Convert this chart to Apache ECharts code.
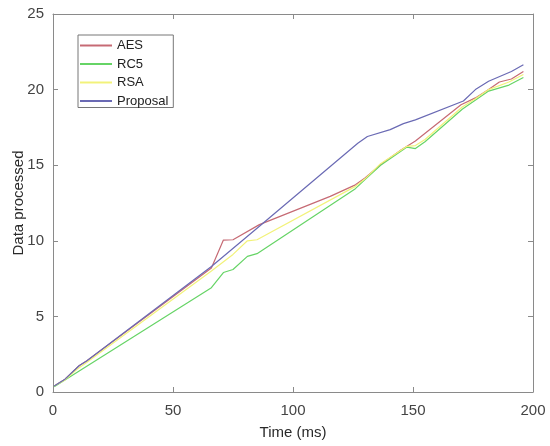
<!DOCTYPE html>
<html>
<head>
<meta charset="utf-8">
<script src="https://cdn.jsdelivr.net/npm/echarts@6/dist/echarts.min.js"></script>
<style>
  html, body { margin: 0; padding: 0; background: #fff; }
  #chart { width: 550px; height: 446px; }
</style>
</head>
<body>
<div id="chart"></div>
<script>
// [time (ms), data processed]
var aesData = [[0.5,0.4],[5,0.85],[10,1.6],[11,1.75],[14,2.05],[66,8.2],[71,10.05],[75,10.07],[86,11.07],
  [115.5,12.94],[126,13.7],[130,14.15],[137,15.1],[145,16.0],[151,16.6],[170,19.0],[176,19.45],
  [181.5,20.0],[186,20.5],[191,20.7],[196,21.2]];
var rc5Data = [[0.5,0.35],[66,6.9],[71,7.9],[75,8.1],[81,8.97],[85,9.15],[126,13.45],[130,14.05],
  [136.5,15.0],[147.5,16.2],[151,16.1],[155,16.55],[170.5,18.7],[181.5,19.9],[190,20.3],[196,20.8]];
var rsaData = [[0.5,0.4],[5,0.8],[10,1.5],[14,1.95],[66,8.0],[75,9.1],[81,10.0],[85,10.07],[126,13.6],
  [130,14.1],[136.5,15.1],[147.5,16.25],[151,16.3],[155,16.7],[170.5,18.85],[176,19.4],[181.5,20.0],
  [190,20.5],[196,21.0]];
var proposalData = [[0.5,0.4],[5,0.85],[10,1.6],[11,1.75],[14,2.05],[66,8.3],[87,11.1],[127,16.45],
  [131,16.9],[140.5,17.35],[146,17.75],[151,18.0],[171,19.25],[176,20.0],[181.5,20.55],[191,21.2],
  [196,21.65]];
var seriesNames = ['AES', 'RC5', 'RSA', 'Proposal'];
var seriesColors = ['#c66a74', '#66d466', '#f2f27a', '#6a6ab4'];

var axisGray = '#8a8a8a';
var font = 'Liberation Sans, Arial, sans-serif';

function makeAxis(pos, showLabel, extra) {
  return Object.assign({
    type: 'value',
    position: pos,
    axisLine: { show: true, onZero: false, lineStyle: { color: axisGray, width: 1 } },
    axisTick: { show: true, inside: true, length: 5, lineStyle: { color: axisGray } },
    axisLabel: { show: showLabel, color: '#444', fontSize: 15, fontFamily: font },
    splitLine: { show: false }
  }, extra);
}

var nameStyle = { fontSize: 15, color: '#2a2a2a', fontFamily: font };

var chart = echarts.init(document.getElementById('chart'));
var all = [aesData, rc5Data, rsaData, proposalData];
chart.setOption({
  animation: false,
  backgroundColor: '#fff',
  grid: { left: 53, right: 17, top: 14, bottom: 54, containLabel: false, outerBoundsMode: 'none' },
  legend: {
    orient: 'vertical',
    left: 78, top: 35,
    data: seriesNames,
    itemWidth: 32, itemHeight: 12, itemGap: 5.5,
    padding: [4, 5, 0, 1],
    backgroundColor: '#fff',
    borderColor: '#777', borderWidth: 1,
    itemStyle: { opacity: 0 },
    textStyle: { fontSize: 13, color: '#222', fontFamily: font }
  },
  xAxis: [
    makeAxis('bottom', true, { min: 0, max: 200, interval: 50,
      name: 'Time (ms)', nameLocation: 'middle', nameGap: 33, nameTextStyle: nameStyle,
      nameMoveOverlap: false,
      axisLabel: { show: true, color: '#444', fontSize: 15, fontFamily: font, margin: 11 } }),
    makeAxis('top', false, { min: 0, max: 200, interval: 50 })
  ],
  yAxis: [
    makeAxis('left', true, { min: 0, max: 25, interval: 5,
      name: 'Data processed', nameLocation: 'middle', nameGap: 27, nameTextStyle: nameStyle,
      nameMoveOverlap: false,
      axisLabel: { show: true, color: '#444', fontSize: 15, fontFamily: font, margin: 9 } }),
    makeAxis('right', false, { min: 0, max: 25, interval: 5 })
  ],
  series: seriesNames.map(function (name, i) {
    return {
      name: name,
      type: 'line',
      data: all[i],
      symbol: 'none',
      color: seriesColors[i],
      lineStyle: { width: 1.2, color: seriesColors[i] },
      z: i === 3 ? 4 : 3
    };
  })
});
</script>
</body>
</html>
